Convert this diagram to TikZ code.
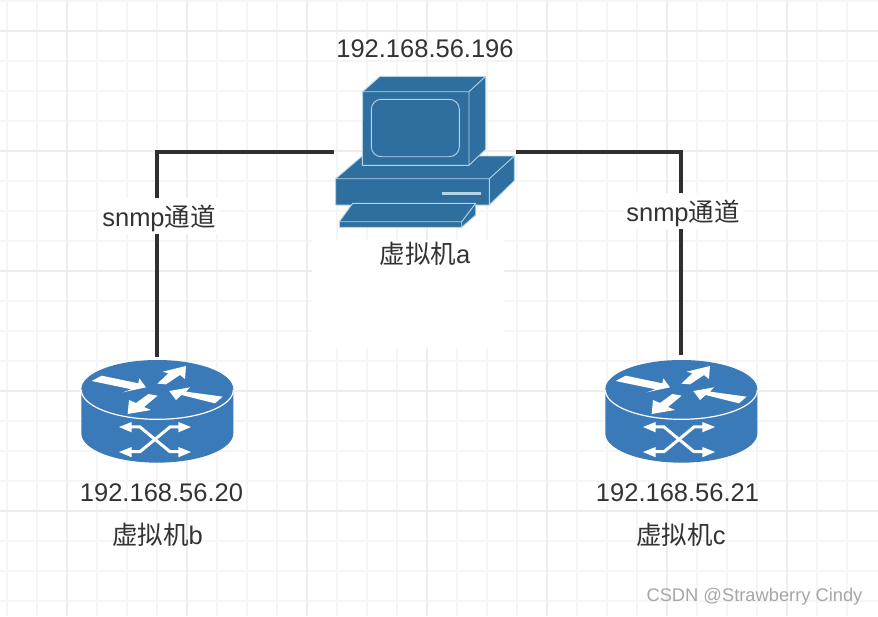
\documentclass[tikz,border=0pt]{standalone}
\usepackage{fontspec}
\setmainfont{Liberation Sans}
\newfontfamily\cjk{Noto Sans CJK SC}
\definecolor{gridminor}{HTML}{F5F5F5}
\definecolor{gridmajor}{HTML}{EDEDED}
\definecolor{pcblue}{HTML}{2F6F9F}
\definecolor{pcline}{HTML}{B5D5E6}
\definecolor{routerblue}{HTML}{3A7AB8}
\definecolor{wire}{HTML}{2F2F2F}
\definecolor{txt}{HTML}{333333}
\definecolor{mark}{HTML}{A6A6A6}
\tikzset{
  wire/.style={draw=wire,line width=3.4pt},
  pcpart/.style={fill=pcblue,draw=pcline,line width=0.9pt,line join=round},
  box/.style={draw=none,fill=none,inner sep=0pt,outer sep=0pt,rectangle},
  lab/.style={text=txt,font=\fontsize{25.5}{28}\selectfont,inner sep=0pt},
  chan/.style={lab,fill=white,inner xsep=0pt,inner ysep=0pt,minimum width=120pt,text height=28.7pt,text depth=7.3pt},
  wmark/.style={text=mark,font=\fontsize{18.3}{22}\selectfont,inner sep=0pt},
  rarrow/.style={fill=white,draw=none},
  rline/.style={draw=white,line width=3pt,line join=miter},
}
\newcommand{\routershape}{%
  \fill[routerblue] (34,118) -- (34,250) .. controls (34,298.6) and (136,338) .. (262,338) .. controls (388,338) and (490,298.6) .. (490,250) -- (490,118) .. controls (490,69.4) and (388,30) .. (262,30) .. controls (136,30) and (34,69.4) .. (34,118) -- cycle;
  \draw[white,line width=1.2pt] (34,120) .. controls (34,168) and (136,208) .. (262,208) .. controls (388,208) and (490,168) .. (490,120);
  \fill[rarrow] (65,93) -- (95,77) -- (205,100) -- (208,85) -- (228,112) -- (158,127) -- (185,118) -- cycle;
  \fill[rarrow] (262,101) -- (295,70) -- (278,65) -- (348,48) -- (345,87) -- (330,75) -- (288,103) -- cycle;
  \fill[rarrow] (298,123) -- (360,112) -- (348,125) -- (458,140) -- (435,160) -- (335,135) -- (318,150) -- cycle;
  \fill[rarrow] (235,132) -- (263,137) -- (222,171) -- (243,180) -- (173,192) -- (177,150) -- (198,159) -- cycle;
  \draw[rline] (180,231) -- (210,231) -- (300,305) -- (330,305);
  \draw[rline] (180,305) -- (210,305) -- (300,231) -- (330,231);
  \fill[rarrow] (147,231) -- (185,216) -- (185,247) -- cycle;
  \fill[rarrow] (147,306) -- (185,291) -- (185,322) -- cycle;
  \fill[rarrow] (363,231) -- (325,216) -- (325,247) -- cycle;
  \fill[rarrow] (363,306) -- (325,291) -- (325,322) -- cycle;
}
\begin{document}
\begin{tikzpicture}[x=1pt,y=-1pt]
\useasboundingbox (0,0) rectangle (878,616);
\fill[white] (0,0) rectangle (878,616);
% grid
\foreach \gx in {7,37,97,127,157,217,247,277,337,367,397,457,487,517,577,607,637,697,727,757,817,847}
  \draw[gridminor,line width=1.6pt] (\gx,0) -- (\gx,616);
\foreach \gy in {1,61,91,121,181,211,241,301,331,361,421,451,481,541,571,601}
  \draw[gridminor,line width=1.6pt] (0,\gy) -- (878,\gy);
\foreach \gx in {67,187,307,427,547,667,787}
  \draw[gridmajor,line width=1.8pt] (\gx,0) -- (\gx,616);
\foreach \gy in {31,151,271,391,511}
  \draw[gridmajor,line width=1.8pt] (0,\gy) -- (878,\gy);
% white patch under the computer
\fill[white] (312,240) rectangle (504,348);
% device placeholders
\node[box,minimum width=182pt,minimum height=152pt] (pc) at (425,152) {};
\node[box,minimum width=154pt,minimum height=106pt] (rb) at (157,410) {};
\node[box,minimum width=154pt,minimum height=108pt] (rc) at (681,409) {};
% connectors
\draw[wire] (pc.west) -| (rb.north);
\draw[wire] (pc.east) -| (rc.north);
% computer
\fill[pcpart] (362.3,156) -- (514.3,156) -- (514.3,180.7) -- (489.3,205) -- (335.7,205) -- (335.7,178.7) -- cycle;
\draw[pcline,line width=0.9pt] (335.7,178.7) -- (489.3,178.7) -- (514.3,156) (489.3,178.7) -- (489.3,205);
\fill[pcline] (442,192) rectangle (480.7,194.7);
\fill[pcpart] (362.7,91.7) -- (380,76.3) -- (485.7,76.3) -- (485.7,149.3) -- (469,165.3) -- (362.3,165.3) -- cycle;
\draw[pcline,line width=0.9pt] (362.7,91.7) -- (469,91.7) -- (485.7,76.3) (469,91.7) -- (469,165.3);
\draw[pcline,line width=0.9pt,rounded corners=10pt] (371.3,99.3) rectangle (459.3,156.7);
\fill[pcpart] (352.7,203.3) -- (475.7,203.3) -- (475.7,215) -- (461.7,227.3) -- (339.3,227.3) -- (339.3,221.7) -- cycle;
\draw[pcline,line width=0.9pt] (339.3,221.7) -- (461.7,221.7) -- (475.7,203.3) (461.7,221.7) -- (461.7,227.3);
% routers
\begin{scope}[shift={(70,350)},x=0.3333pt,y=-0.3333pt]\routershape\end{scope}
\begin{scope}[shift={(594,350)},x=0.3333pt,y=-0.3333pt]\routershape\end{scope}
% labels
\node[lab] (ipa) at (425,49) {192.168.56.196};
\node[lab] (nama) at (425,254) {{\cjk 虚拟机}a};
\node[lab] (ipb) at (161.5,493) {192.168.56.20};
\node[lab] (namb) at (157.5,535) {{\cjk 虚拟机}b};
\node[lab] (ipc) at (677.5,493) {192.168.56.21};
\node[lab] (namc) at (681,535) {{\cjk 虚拟机}c};
\node[chan] (chb) at (159,216) {snmp{\cjk 通道}};
\node[chan] (chc) at (683,211) {snmp{\cjk 通道}};
\node[wmark] (wm) at (754.5,597) {CSDN @Strawberry Cindy};
\end{tikzpicture}
\end{document}
